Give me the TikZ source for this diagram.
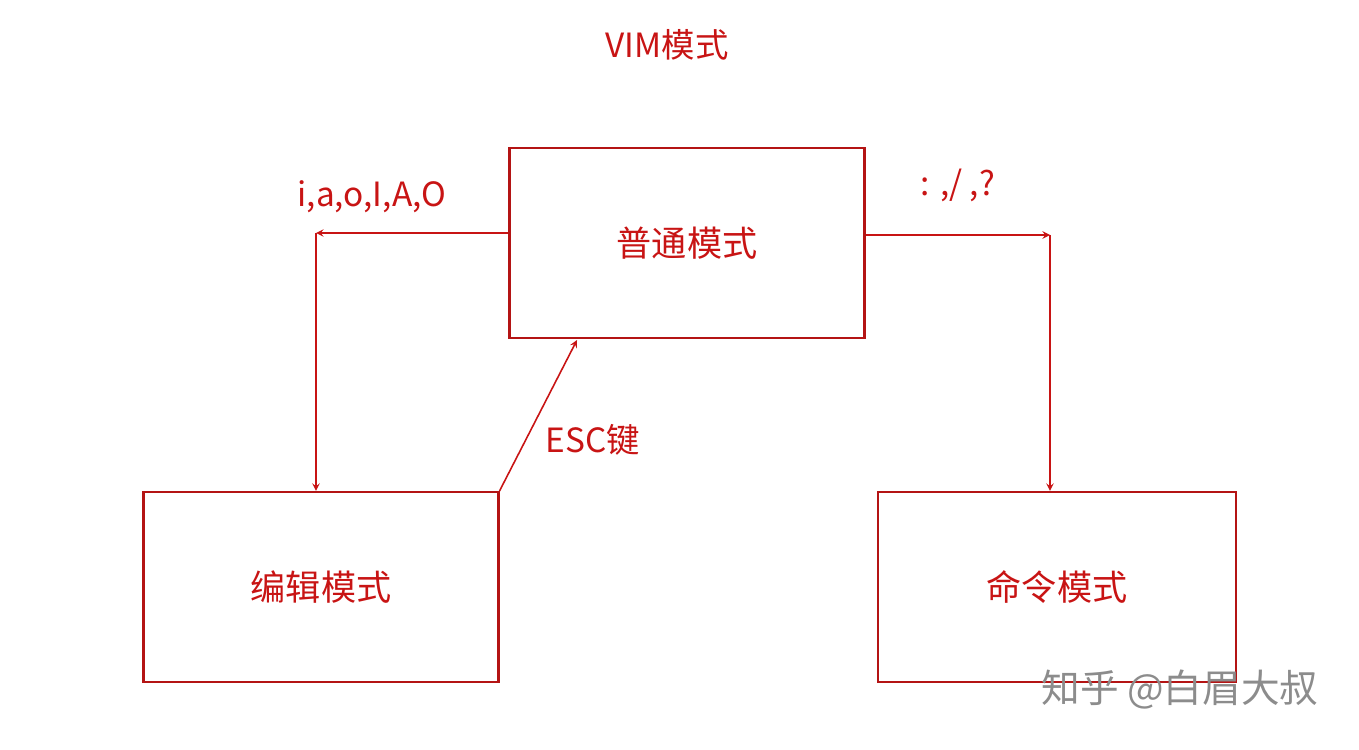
\documentclass[tikz,border=0pt]{standalone}
\usepackage{fontspec}
\setmainfont{Noto Sans CJK SC}
\usetikzlibrary{positioning}
\definecolor{vimred}{RGB}{200,20,20}
\definecolor{boxred}{RGB}{180,20,20}
\begin{document}
\begin{tikzpicture}[
    x = 0.02cm,
    y = -0.02cm,
    >=stealth,
    mode/.style = {draw=boxred, line width=1.2pt, minimum width=7.1cm,
              minimum height=3.8cm, text=vimred, font=\fontsize{20}{24}\selectfont},
    lbl/.style = {text=vimred, font=\fontsize{19}{23}\selectfont},
    edge/.style = {vimred, line width=0.9pt},
    ]

\useasboundingbox (0,0) rectangle (1359,750);

\node[lbl] (title) at (667,45) {VIM模式};
\node[mode] (normal) at (687,243) {普通模式};
\node[mode] (edit) at (321,587) {编辑模式};
\node[mode, minimum width=7.15cm] (cmd) at (1057,587) {命令模式};

\coordinate (lt) at (316,233);
\coordinate (rt) at (1050,235);
\draw [->, edge] (normal.west |- lt) -- (lt);
\draw [->, edge] (lt) -- (edit.north -| lt);
\draw [->, edge] (normal.east |- rt) -- (rt);
\draw [->, edge] (rt) -- (cmd.north -| rt);
\draw [->, edge] (edit.north east) -- (577,340);

\node[lbl] (ins) at (372,197) {i,a,o,I,A,O};
\node[lbl] (colon) at (958,185) {: ,/ ,?};
\node[lbl] (esc) at (593,440) {ESC键};

% watermark
\node[text=black!45, font=\fontsize{22}{26}\selectfont] (mark) at (1180,690) {知乎 @白眉大叔};

\end{tikzpicture}
\end{document}
